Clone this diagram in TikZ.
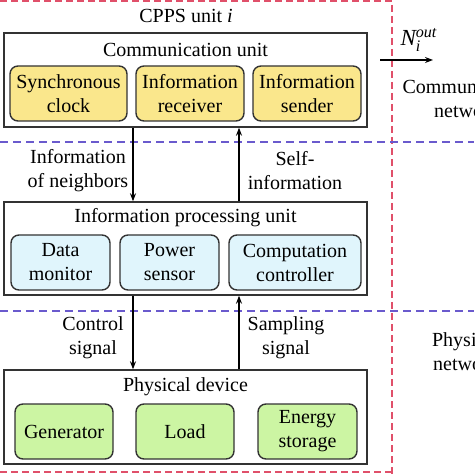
\documentclass[tikz,border=0pt]{standalone}
\usepackage{fontspec}
\setmainfont{Liberation Serif}
\usetikzlibrary{arrows.meta}

\definecolor{clockyellow}{HTML}{FAE78C}
\definecolor{infoblue}{HTML}{E0F5FC}
\definecolor{devgreen}{HTML}{CCF5A3}
\definecolor{netred}{HTML}{E0506A}
\definecolor{layerblue}{HTML}{6A5ACD}

\begin{document}
\begin{tikzpicture}[x=0.5pt,y=-0.5pt,font=\fontsize{10}{12}\selectfont,
  unit/.style={rectangle,draw=black!80,line width=0.7pt,minimum width=181.5pt,minimum height=47pt,inner sep=0pt},
  part/.style={rectangle,rounded corners=4pt,draw=black!80,line width=0.7pt,minimum height=27.5pt,align=center,inner sep=1pt},
  commpart/.style={part,fill=clockyellow},
  procpart/.style={part,fill=infoblue},
  devpart/.style={part,fill=devgreen},
  label/.style={align=center,inner sep=0pt},
  redline/.style={draw=netred,line width=0.7pt,dash pattern=on 3.5pt off 2pt},
  blueline/.style={draw=layerblue,line width=0.7pt,dash pattern=on 4pt off 2.5pt},
  signal/.style={-{Stealth[length=4pt,width=3pt]},line width=0.6pt}]

  \useasboundingbox (0,0) rectangle (474,474);
  \clip (0,0) rectangle (474,474);

  % network borders
  \draw[redline] (0,1) -- (392,1) -- (392,474);
  \draw[redline] (0,472) -- (392,472);
  \draw[blueline] (0,142) -- (474,142);
  \draw[blueline] (0,311) -- (474,311);

  \node(cpps)[label] at (186,16) {CPPS unit \textit{i}};

  % communication unit
  \node(comm)[unit] at (185.5,80) {};
  \node(commt)[label] at (185.5,50) {Communication unit};
  \node(clock)   [commpart,minimum width=58.5pt] at (68.5,93.5) {Synchronous\\clock};
  \node(receiver)[commpart,minimum width=54pt]   at (190,93.5)  {Information\\receiver};
  \node(sender)  [commpart,minimum width=54pt]   at (307,93.5)  {Information\\sender};

  % information processing unit
  \node(proc)[unit,minimum height=46.5pt] at (185.5,248.5) {};
  \node(proct)[label] at (185.5,218) {Information processing unit};
  \node(monitor)   [procpart,minimum width=49.5pt] at (60.5,262.5)  {Data\\monitor};
  \node(sensor)    [procpart,minimum width=49.5pt] at (169.5,262.5) {Power\\sensor};
  \node(controller)[procpart,minimum width=66pt]   at (295,262.5)   {Computation\\controller};

  % physical device
  \node(dev)[unit] at (185.5,417) {};
  \node(devt)[label] at (185.5,387) {Physical device};
  \node(gen)    [devpart,minimum width=49pt]   at (64,431.5)    {Generator};
  \node(load)   [devpart,minimum width=49pt]   at (185,431.5)   {Load};
  \node(storage)[devpart,minimum width=49.5pt] at (307.5,431.5) {Energy\\storage};

  % signals between the units
  \draw[signal] ([xshift=-26.25pt]comm.south) -- ([xshift=-26.25pt]proc.north);
  \draw[signal] ([xshift=26.75pt]proc.north) -- ([xshift=26.75pt]comm.south);
  \draw[signal] ([xshift=-26.25pt]proc.south) -- ([xshift=-26.25pt]dev.north);
  \draw[signal] ([xshift=26.75pt]dev.north) -- ([xshift=26.75pt]proc.south);
  \node(neigh)[label] at (78,171) {Information\\of neighbors};
  \node(self) [label] at (295,171) {Self-\\information};
  \node(ctrl) [label] at (93,338) {Control\\signal};
  \node(samp) [label] at (286,338) {Sampling\\signal};

  % networks
  \coordinate(outa) at (380,60);
  \coordinate(outb) at (433,60);
  \draw[signal] (outa) -- (outb);
  \node(nout)[label,font=\fontsize{11.5}{13}\selectfont] at (419,40) {$\mathit{N}_{\mathit{i}}^{\mathit{out}}$};
  \node(commnet)[label] at (467,99)  {Communication\\network};
  \node(physnet)[label] at (466,352) {Physical\\network};
\end{tikzpicture}
\end{document}
